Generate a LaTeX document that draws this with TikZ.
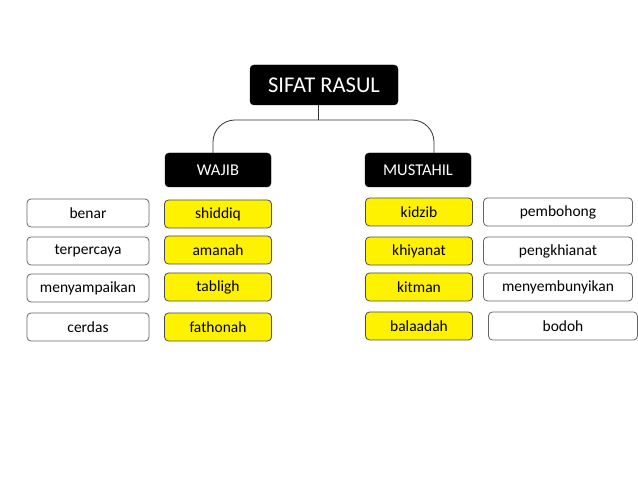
\documentclass[tikz,border=0pt]{standalone}
\usepackage{fontspec}
\setmainfont{Carlito}
\usepackage{tikz}
\usetikzlibrary{positioning}
\tikzstyle{sifat}=[
  x=1pt,y=-1pt,font=\fontsize{15.5}{18}\selectfont
]
\tikzstyle{judul}=[
  draw=black,fill=black,text=white,rounded corners=4pt,inner sep=0pt,
  minimum width=148pt,minimum height=40pt,font=\fontsize{22.5}{26}\selectfont
]
\tikzstyle{kelompok}=[
  draw=black,fill=black,text=white,rounded corners=4pt,inner sep=0pt,
  minimum width=106pt,minimum height=34pt,font=\fontsize{16.5}{19}\selectfont
]
\tikzstyle{sifatbox}=[
  draw=black!70,fill=yellow,rounded corners=4pt,inner sep=0pt,line width=0.8pt,
  minimum width=107pt,minimum height=28pt
]
\tikzstyle{artibox}=[
  draw=black!60,fill=white,rounded corners=4pt,inner sep=0pt,line width=0.8pt,
  minimum width=122pt,minimum height=28pt
]
\tikzstyle{garis}=[
  draw=black!80,line width=0.8pt
]

\begin{document}
\begin{tikzpicture}[sifat]
  \useasboundingbox (0,0) rectangle (638,478);
  \node (rasul) at (324,85) [judul] {SIFAT RASUL};
  \node (wajib) at (218,170) [kelompok] {WAJIB};
  \node (mustahil) at (418,170) [kelompok] {MUSTAHIL};
  % sifat wajib dan artinya
  \node (shiddiq) at (218,214) [sifatbox] {shiddiq};
  \node (amanah) at (218,250) [sifatbox] {amanah};
  \node (tabligh) at (218,287) [sifatbox] {tabligh};
  \node (fathonah) at (218,327) [sifatbox] {fathonah};
  \node (benar) at (88,213) [artibox] {benar};
  \node (terpercaya) at (88,251) [artibox] {terpercaya};
  \node (menyampaikan) at (88,288) [artibox] {menyampaikan};
  \node (cerdas) at (88,327) [artibox] {cerdas};
  % sifat mustahil dan artinya
  \node (kidzib) at (419,212) [sifatbox] {kidzib};
  \node (khiyanat) at (419,251) [sifatbox] {khiyanat};
  \node (kitman) at (419,287) [sifatbox] {kitman};
  \node (balaadah) at (419,326) [sifatbox] {balaadah};
  \node (pembohong) at (558,212) [artibox,minimum width=149pt] {pembohong};
  \node (pengkhianat) at (558,251) [artibox,minimum width=149pt] {pengkhianat};
  \node (menyembunyikan) at (558,287) [artibox,minimum width=149pt] {menyembunyikan};
  \node (bodoh) at (563,326) [artibox,minimum width=149pt] {bodoh};
  \coordinate (cabang) at (318,120);
  \draw [garis] (rasul.south -| cabang) -- (cabang);
  \draw [garis,rounded corners=22pt] (cabang) -| ([xshift=-5pt]wajib.north);
  \draw [garis,rounded corners=22pt] (cabang) -| ([xshift=16pt]mustahil.north);
\end{tikzpicture}
\end{document}
